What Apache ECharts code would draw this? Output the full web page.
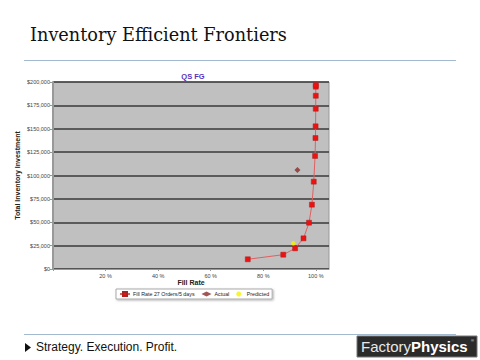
<!DOCTYPE html>
<html><head><meta charset="utf-8">
<script src="https://cdn.jsdelivr.net/npm/echarts@6/dist/echarts.min.js"></script>
<style>html,body{margin:0;padding:0;background:#fff}#c{width:480px;height:360px}</style>
</head><body><div id="c"></div>
<script>
// Data
var fillRate = [74.1, 87.6, 92.1, 95.3, 97.4, 98.5, 99.2, 99.7, 99.85, 99.9, 99.95, 99.97, 99.98, 99.99];
var investment = [10400, 15300, 22100, 32800, 49500, 68800, 93400, 120900, 140100, 152600, 171400, 185300, 195000, 196800];
var actualX = [93.0], actualY = [105900];
var predictedX = [91.4], predictedY = [27500];
var seriesNames = ['Fill Rate 27 Orders/5 days', 'Actual', 'Predicted'];
var xTicks = [20, 40, 60, 80, 100];

function pairs(xs, ys){ return xs.map(function(x,i){return [x, ys[i]];}); }

var chart = echarts.init(document.getElementById('c'), null, {renderer:'svg'});
chart.setOption({
  animation:false,
  backgroundColor:'#fff',
  title:{text:'QS FG', left:193, top:72, textAlign:'center', padding:0,
    textStyle:{fontFamily:'Arial, Liberation Sans', fontSize:7.5, fontWeight:'bold', color:'#5533bb'}},
  grid:{left:53, top:82, right:151, bottom:91, show:true, backgroundColor:'#c0c0c0', borderColor:'#999', borderWidth:1},
  legend:{
    data:seriesNames, left:116, top:289,
    borderColor:'#aaa', borderWidth:1, padding:[2,3], itemGap:7, itemWidth:10, itemHeight:5,
    shadowColor:'rgba(0,0,0,0.3)', shadowBlur:2, shadowOffsetX:1, shadowOffsetY:1, backgroundColor:'#fff',
    textStyle:{fontFamily:'Arial, Liberation Sans', fontSize:5.3, color:'#222', padding:[0,0,0,-2]}
  },
  xAxis:{type:'value', min:0, max:105, interval:20,
    name:'Fill Rate', nameLocation:'middle', nameGap:10, nameMoveOverlap:false,
    nameTextStyle:{fontFamily:'Arial, Liberation Sans', fontSize:7, fontWeight:'bold', color:'#222'},
    axisLine:{show:true, lineStyle:{color:'#999', width:1}},
    axisTick:{show:true, length:2, lineStyle:{color:'#999'}},
    axisLabel:{fontFamily:'Arial, Liberation Sans', fontSize:5.5, color:'#444', margin:4,
      showMaxLabel:false,
      formatter:function(v){ return xTicks.indexOf(v)>=0 ? v+' %' : ''; }},
    splitLine:{show:false}
  },
  yAxis:{type:'value', min:0, max:200000, interval:25000,
    name:'Total Inventory Investment', nameLocation:'middle', nameGap:32, nameMoveOverlap:false,
    nameTextStyle:{fontFamily:'Arial, Liberation Sans', fontSize:7, fontWeight:'bold', color:'#222'},
    axisLine:{show:true, lineStyle:{color:'#999', width:2}},
    axisTick:{show:true, length:3, lineStyle:{color:'#999'}},
    axisLabel:{fontFamily:'Arial, Liberation Sans', fontSize:5.5, color:'#444', margin:3,
      formatter:function(v){ return '$'+v.toLocaleString('en-US'); }},
    splitLine:{show:true, lineStyle:{color:'#3a3a3a', width:1.5}}
  },
  series:[
    {name:seriesNames[0], type:'line', data:pairs(fillRate, investment),
      symbol:'rect', symbolSize:5, z:3,
      lineStyle:{color:'#e06060', width:1},
      itemStyle:{color:'#ee1111', borderColor:'#aa2222', borderWidth:0.5}},
    {name:seriesNames[1], type:'scatter', data:pairs(actualX, actualY),
      symbol:'diamond', symbolSize:6, z:4,
      itemStyle:{color:'#8b2a2a'}},
    {name:seriesNames[2], type:'scatter', data:pairs(predictedX, predictedY),
      symbol:'circle', symbolSize:4.5, z:4,
      itemStyle:{color:'#f2f200'}}
  ],
  graphic:[
    {type:'text', left:30, top:26, style:{text:'Inventory Efficient Frontiers', font:'17.7px "DejaVu Serif", serif', fill:'#111'}},
    {type:'line', shape:{x1:24, y1:60.5, x2:456, y2:60.5}, style:{stroke:'#a3b9cf', lineWidth:1}},
    {type:'line', shape:{x1:24, y1:334.5, x2:456, y2:334.5}, style:{stroke:'#a3b9cf', lineWidth:1}},
    {type:'polygon', shape:{points:[[25,343],[25,352],[31,347.5]]}, style:{fill:'#111'}},
    {type:'text', left:36, top:341, style:{text:'Strategy. Execution. Profit.', font:'12px "Liberation Sans", Arial', fill:'#111'}},
    {type:'rect', shape:{x:357, y:336, width:120, height:21}, style:{fill:'#2b2b2b', stroke:'#777', lineWidth:1}},
    {type:'text', left:361, top:339, style:{rich:{a:{font:'15px "Liberation Sans", Arial', fill:'#e8e8e8'}, b:{font:'bold 15px "Liberation Sans", Arial', fill:'#fff'}}, text:'{a|Factory}{b|Physics}'}},
    {type:'text', left:471, top:338, style:{text:'®', font:'4px Arial', fill:'#fff'}}
  ]
});
</script></body></html>
